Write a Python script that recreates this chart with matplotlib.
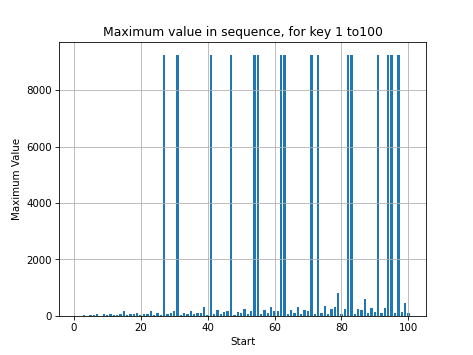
import matplotlib
matplotlib.use("Agg")
import matplotlib.pyplot as plt

starts = list(range(1, 101))
max_values = [
    1, 2, 16, 4, 16, 16, 52, 8, 52, 16, 52, 16, 40, 52, 160, 16, 52, 52, 88, 20,
    64, 52, 160, 24, 88, 40, 9232, 52, 88, 160, 9232, 32, 100, 52, 160, 52, 112, 88, 304, 40,
    9232, 64, 196, 52, 136, 160, 9232, 48, 148, 88, 232, 52, 160, 9232, 9232, 56, 196, 88, 304, 160,
    184, 9232, 9232, 64, 196, 100, 304, 68, 208, 160, 9232, 72, 9232, 112, 340, 76, 232, 304, 808, 80,
    244, 9232, 9232, 84, 256, 196, 592, 88, 268, 136, 9232, 92, 280, 9232, 9232, 96, 9232, 148, 448, 100,
]

fig, ax = plt.subplots(figsize=(6.4, 4.8), dpi=74)
ax.bar(starts, max_values, width=0.7)
ax.set_title("Maximum value in sequence, for key 1 to100")
ax.set_xlabel("Start")
ax.set_ylabel("Maximum Value")
ax.grid(True)
fig.savefig("out.png", dpi=74)
